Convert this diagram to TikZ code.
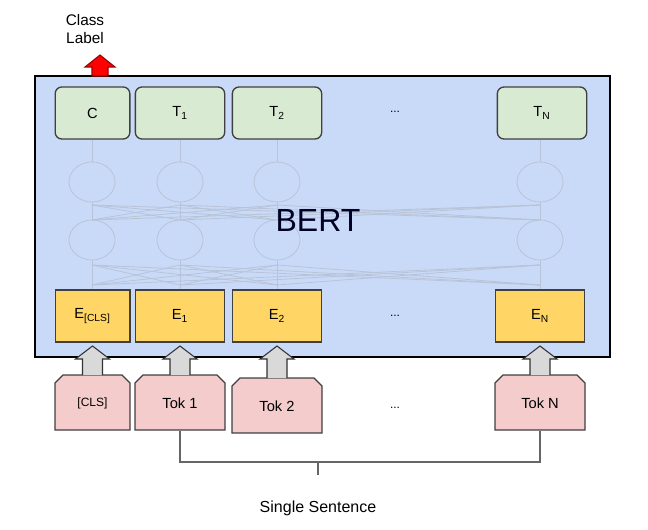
\documentclass[tikz,border=0pt]{standalone}
\usepackage{fontspec}
\setmainfont{Liberation Sans}
\definecolor{gfill}{RGB}{217,234,211}
\definecolor{bfill}{RGB}{201,218,248}
\definecolor{yfill}{RGB}{255,214,102}
\definecolor{pfill}{RGB}{244,204,204}
\definecolor{faintc}{RGB}{185,195,215}
\begin{document}
\begin{tikzpicture}[x=0.75pt,y=-0.75pt,
  gbox/.style={draw=black!75,line width=1pt,rounded corners=5pt,fill=gfill,minimum height=39pt,font=\fontsize{11}{13}\selectfont},
  ybox/.style={draw=black!75,line width=1pt,fill=yfill,minimum height=39pt,font=\fontsize{11}{13}\selectfont},
  narrow/.style={minimum width=56pt},
  wide/.style={minimum width=67pt},
  faint/.style={draw=faintc,line width=0.6pt},
  dots/.style={font=\fontsize{9}{10}\selectfont}]
\useasboundingbox (0,0) rectangle (648,530);
\node[draw=black,line width=1.5pt,fill=bfill,minimum width=431pt,minimum height=211pt,inner sep=0pt] (bert) at (322.5,216.5) {};
% faint network
\foreach \x in {92,180,277,540}{
  \foreach \y in {182,240}{\draw[faint] (\x,\y) ellipse (23 and 20);}
  \draw[faint] (\x,140)--(\x,162) (\x,202)--(\x,220) (\x,260)--(\x,290);
}
\foreach \a in {92,180,277,540}{\foreach \b in {92,180,277,540}{
  \draw[faint] (\a,205)--(\b,220); \draw[faint] (\a,265)--(\b,285);}}
\node[font=\fontsize{24}{28}\selectfont,text=black!85!blue] (bt) at (318,220) {BERT};
\node[gbox,narrow] (c) at (92.5,113) {C};
\node[gbox,wide] (t1) at (180,113) {T\textsubscript{1}};
\node[gbox,wide] (t2) at (277,113) {T\textsubscript{2}};
\node[dots] (td) at (395,112) {...};
\node[gbox,wide] (tn) at (542,113) {T\textsubscript{N}};
\node[ybox,narrow] (e0) at (92.5,316) {E\textsubscript{[CLS]}};
\node[ybox,wide] (e1) at (180,316) {E\textsubscript{1}};
\node[ybox,wide] (e2) at (277,316) {E\textsubscript{2}};
\node[dots] (ed) at (395,316) {...};
\node[ybox,wide] (en) at (540,316) {E\textsubscript{N}};
% tokens
\foreach \n/\x/\y/\w/\t in {k0/92.5/403/37.5/{\fontsize{9}{10}\selectfont[CLS]},k1/180/403/45/Tok 1,k2/277/406/45/Tok 2,kn/540/403/45/Tok N}{
  \fill[pfill,draw=black!75,line width=1pt] (\x-\w,\y+27)--(\x-\w,\y-20)--(\x-\w+8,\y-28)--(\x+\w-8,\y-28)--(\x+\w,\y-20)--(\x+\w,\y+27)--cycle;
  \node[font=\fontsize{11}{13}\selectfont] (\n) at (\x,\y) {\t};
}
\node[dots] (kd) at (395,408) {...};
\foreach \x/\b in {92.5/375,180/375,277/378,540/375}{
  \fill[black!15,draw=black!80,line width=0.8pt] (\x-10,\b)--(\x-10,359)--(\x-17,359)--(\x,346)--(\x+17,359)--(\x+10,359)--(\x+10,\b);}
\fill[red,draw=red!60!black,line width=0.8pt] (92,76)--(92,67)--(85,67)--(100,55)--(115,67)--(108,67)--(108,76)--cycle;
\node[font=\fontsize{11.5}{14}\selectfont,align=center] (cl) at (85,29) {Class\\Label};
\coordinate (m) at (318,475);
\draw[black!60,line width=1.2pt] (180,431)--(180,462)--(540,462)--(540,431) (318,462)--(m);
\node[font=\fontsize{12}{14}\selectfont] (ss) at (318,508) {Single Sentence};
\end{tikzpicture}
\end{document}
